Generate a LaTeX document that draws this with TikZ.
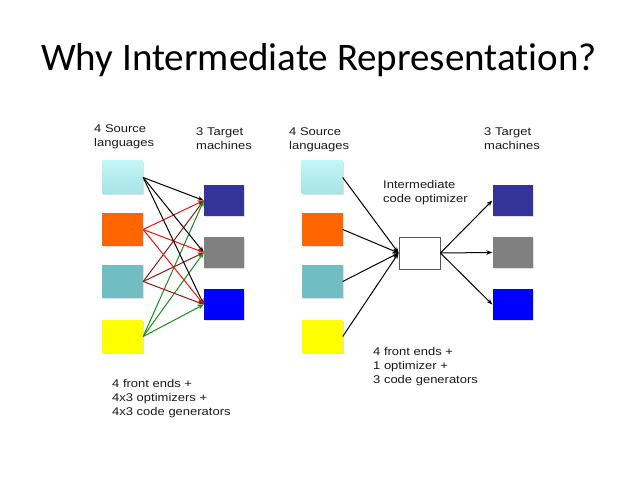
\documentclass[tikz,border=0pt]{standalone}
\usepackage{fontspec}
\setmainfont[FakeStretch=1.16]{Liberation Sans}
\newfontfamily\titlefont[Ligatures=NoCommon]{Carlito}
\usetikzlibrary{arrows.meta,shadows}
\definecolor{srcA}{HTML}{C2F6F6}
\definecolor{srcAb}{HTML}{A6E2E6}
\definecolor{srcB}{HTML}{FF6600}
\definecolor{srcC}{HTML}{70BEC4}
\definecolor{srcD}{HTML}{FFFF00}
\definecolor{tgtA}{HTML}{333399}
\definecolor{tgtB}{HTML}{808080}
\definecolor{tgtC}{HTML}{0000FF}
\definecolor{arRed}{HTML}{F01010}
\definecolor{arMaroon}{HTML}{8B1A1A}
\definecolor{arGreen}{HTML}{1A8C1A}
\definecolor{txt}{HTML}{1A1A1A}
\tikzset{
  srcbox/.style={draw=none, minimum width=41pt, minimum height=33pt, inner sep=0pt,
    drop shadow={opacity=0.25, shadow xshift=1pt, shadow yshift=-1pt}},
  tgtbox/.style={draw=none, minimum width=40pt, minimum height=31pt, inner sep=0pt,
    drop shadow={opacity=0.25, shadow xshift=1pt, shadow yshift=-1pt}},
  midbox/.style={draw=black!65, fill=white, line width=0.8pt, minimum width=41pt, minimum height=32pt, inner sep=0pt},
  arr/.style={-{Stealth[length=6pt,width=4.5pt]}, line width=1pt},
  lbl/.style={anchor=north west, inner sep=0pt, align=left, font=\fontsize{11.2pt}{14pt}\selectfont, text=txt},
}
\begin{document}
\begin{tikzpicture}[x=1pt,y=-1pt]
\useasboundingbox (0,0) rectangle (638,478);
\node[anchor=base, inner sep=0pt, font=\titlefont\fontsize{39pt}{44pt}\selectfont, text=black] (title) at (319,71) {Why Intermediate Representation?};

% left diagram
\node[lbl] (ls) at (94,124) {4 Source\\languages};
\node[lbl] (lt) at (196,127) {3 Target\\machines};
\node[srcbox, top color=srcA, bottom color=srcAb] (L1) at (122.5,177.5) {};
\node[srcbox, fill=srcB] (L2) at (122.5,229.5) {};
\node[srcbox, fill=srcC] (L3) at (122.5,281.5) {};
\node[srcbox, fill=srcD] (L4) at (122.5,336.5) {};
\node[tgtbox, fill=tgtA] (T1) at (224,200.5) {};
\node[tgtbox, fill=tgtB] (T2) at (224,252.5) {};
\node[tgtbox, fill=tgtC] (T3) at (224,304.5) {};
\foreach \t in {T1,T2,T3} {
  \draw[arr, black] (L1.east) -- (\t.west);
  \draw[arr, arRed] (L2.east) -- (\t.west);
  \draw[arr, arMaroon] (L3.east) -- (\t.west);
  \draw[arr, arGreen] (L4.east) -- (\t.west);
}
\node[lbl] (lcount) at (112,379) {4 front ends +\\4x3 optimizers +\\4x3 code generators};

% right diagram
\node[lbl] (rs) at (289,127) {4 Source\\languages};
\node[lbl] (rt) at (484,127) {3 Target\\machines};
\node[lbl] (ml) at (383,180) {Intermediate\\code optimizer};
\node[srcbox, top color=srcA, bottom color=srcAb] (R1) at (322,177.5) {};
\node[srcbox, fill=srcB] (R2) at (322,229.5) {};
\node[srcbox, fill=srcC] (R3) at (322,281.5) {};
\node[srcbox, fill=srcD] (R4) at (322,336.5) {};
\node[midbox] (M) at (419.5,253) {};
\node[tgtbox, fill=tgtA] (U1) at (512.5,200.5) {};
\node[tgtbox, fill=tgtB] (U2) at (512.5,252.5) {};
\node[tgtbox, fill=tgtC] (U3) at (512.5,304.5) {};
\foreach \s in {R1,R2,R3,R4} { \draw[arr, black] (\s.east) -- (M.west); }
\foreach \t in {U1,U2,U3} { \draw[arr, black] (M.east) -- (\t.west); }
\node[lbl] (rcount) at (373,347) {4 front ends +\\1 optimizer +\\3 code generators};
\end{tikzpicture}
\end{document}
